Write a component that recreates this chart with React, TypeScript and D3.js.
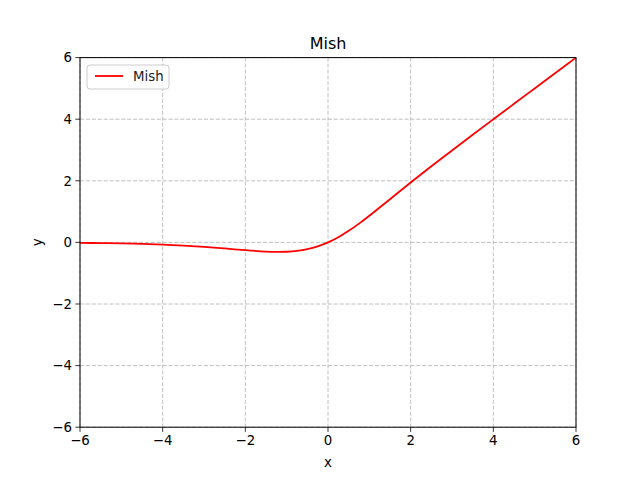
import React from "react";
import * as d3 from "d3";

const xs = [-6, -5.5, -5, -4.5, -4, -3.5, -3, -2.5, -2, -1.5, -1.25, -1, -0.75, -0.5, -0.25, 0, 0.25, 0.5, 0.75, 1, 1.5, 2, 2.5, 3, 3.5, 4, 4.5, 5, 5.5, 6];
const ys = [-0.0149, -0.0224, -0.0336, -0.0497, -0.0726, -0.1041, -0.1457, -0.1968, -0.2525, -0.2981, -0.3084, -0.3034, -0.2765, -0.2207, -0.1299, 0, 0.1696, 0.3752, 0.61, 0.8651, 1.4034, 1.944, 2.4714, 2.9865, 3.494, 3.9974, 4.4989, 4.9996, 5.4998, 5.9999];
const xTicks = [-6, -4, -2, 0, 2, 4, 6];
const yTicks = [-6, -4, -2, 0, 2, 4, 6];
const title = "Mish";
const seriesName = "Mish";

const W = 640, H = 480;
const L = 80, R = 576, T = 57.6, B = 427.2;
const font = "DejaVu Sans, sans-serif";

export default function App() {
  const x = d3.scaleLinear().domain([-6, 6]).range([L, R]);
  const y = d3.scaleLinear().domain([-6, 6]).range([B, T]);
  const pts = xs.map((v, i) => [v, ys[i]] as [number, number]);
  const line = d3.line<[number, number]>().x(d => x(d[0])).y(d => y(d[1])).curve(d3.curveCatmullRom.alpha(0.5));
  const fmt = (v: number) => (v < 0 ? "\u2212" + Math.abs(v) : String(v));
  return (
    <svg width={W} height={H} style={{ position: "absolute", left: 0, top: 0, background: "#fff" }}>
      <rect x={0} y={0} width={W} height={H} fill="#fff" />
      {xTicks.map(t => (
        <line key={"gx" + t} x1={x(t)} x2={x(t)} y1={T} y2={B} stroke="#b0b0b0" strokeWidth={0.8} strokeDasharray="4.1,1.8" />
      ))}
      {yTicks.map(t => (
        <line key={"gy" + t} x1={L} x2={R} y1={y(t)} y2={y(t)} stroke="#b0b0b0" strokeWidth={0.8} strokeDasharray="4.1,1.8" />
      ))}
      <path d={line(pts) || ""} fill="none" stroke="red" strokeWidth={1.8} />
      <rect x={L} y={T} width={R - L} height={B - T} fill="none" stroke="#000" strokeWidth={1} />
      {xTicks.map(t => (
        <g key={"tx" + t}>
          <line x1={x(t)} x2={x(t)} y1={B} y2={B + 4.67} stroke="#000" strokeWidth={0.8} />
          <text x={x(t)} y={B + 18} textAnchor="middle" fontFamily={font} fontSize={13.33}>{fmt(t)}</text>
        </g>
      ))}
      {yTicks.map(t => (
        <g key={"ty" + t}>
          <line x1={L - 4.67} x2={L} y1={y(t)} y2={y(t)} stroke="#000" strokeWidth={0.8} />
          <text x={L - 8} y={y(t) + 4.8} textAnchor="end" fontFamily={font} fontSize={13.33}>{fmt(t)}</text>
        </g>
      ))}
      <text x={(L + R) / 2} y={49} textAnchor="middle" fontFamily={font} fontSize={16}>{title}</text>
      <text x={(L + R) / 2} y={467} textAnchor="middle" fontFamily={font} fontSize={13.33}>x</text>
      <text transform={`translate(42,${(T + B) / 2}) rotate(-90)`} textAnchor="middle" fontFamily={font} fontSize={13.33}>y</text>
      <g>
        <rect x={87} y={65} width={82} height={24} rx={3} fill="#fff" fillOpacity={0.8} stroke="#ccc" strokeWidth={1} />
        <line x1={95} x2={123} y1={76} y2={76} stroke="red" strokeWidth={1.8} />
        <text x={133} y={81} fontFamily={font} fontSize={13.33} fill="#222">{seriesName}</text>
      </g>
    </svg>
  );
}
